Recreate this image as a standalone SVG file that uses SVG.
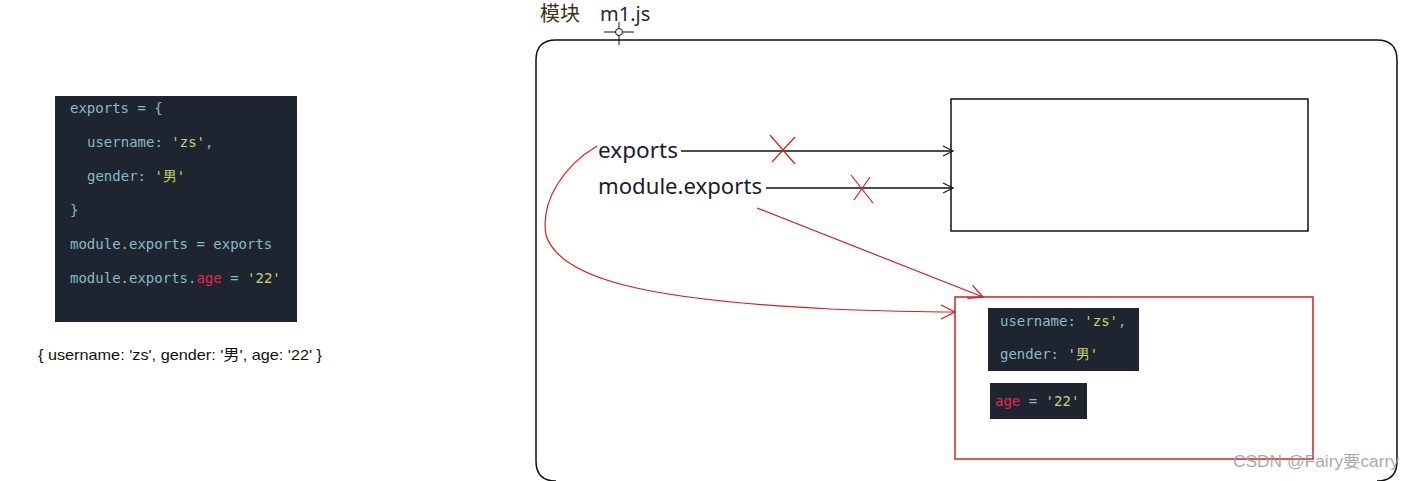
<svg xmlns="http://www.w3.org/2000/svg" width="1415" height="481" viewBox="0 0 1415 481">
<defs>
<style>
.code{font-family:"DejaVu Sans Mono","Liberation Mono",monospace;font-size:14px;fill:#86bcc6}
.str{fill:#c8d36a}
.red{fill:#e3294c}
.bg{fill:#1e2531}
.lbl{font-family:"Noto Sans","Liberation Sans","Noto Sans CJK SC",sans-serif;font-size:21px;fill:#1a1a30}
.ln{stroke:#111;stroke-width:1.5;fill:none}
.rl{stroke:#d42020;stroke-width:1.2;fill:none}
</style>
<marker id="ah" viewBox="0 0 12 12" refX="11" refY="6" markerWidth="12" markerHeight="12" markerUnits="userSpaceOnUse" orient="auto">
<path d="M1,1 L11,6 L1,11" fill="none" stroke="#222" stroke-width="1.3"/>
</marker>
<marker id="ahr" viewBox="0 0 16 16" refX="15" refY="8" markerWidth="16" markerHeight="16" markerUnits="userSpaceOnUse" orient="auto">
<path d="M1,1 L15,8 L1,15" fill="none" stroke="#c62020" stroke-width="1.3"/>
</marker>
</defs>
<rect width="1415" height="481" fill="#fff"/>

<g id="code-left">
<rect class="bg" x="55" y="96" width="242" height="226"/>
<text class="code" x="70" y="113">exports = {</text>
<text class="code" x="87" y="147">username: <tspan class="str">'zs'</tspan>,</text>
<text class="code" x="87" y="181">gender: <tspan class="str">'男'</tspan></text>
<text class="code" x="70" y="215">}</text>
<text class="code" x="70" y="249">module.exports = exports</text>
<text class="code" x="70" y="283">module.exports.<tspan class="red">age</tspan> = <tspan class="str">'22'</tspan></text>
</g>
<g id="caption">
<text x="38" y="360" font-family="'Liberation Sans','Noto Sans CJK SC',sans-serif" font-size="15" fill="#111" textLength="284" lengthAdjust="spacingAndGlyphs">{ username: 'zs', gender: '男', age: '22' }</text>
</g>

<g id="module">
<path d="M556,40 L1377,40 Q1397,40 1397,60 L1397,461 Q1397,481 1377,481" class="ln" stroke-width="2"/>
<path d="M556,40 Q536,40 536,60 L536,461 Q536,481 556,481" class="ln" stroke-width="2"/>
<text x="540" y="21" font-family="'Noto Sans CJK SC',sans-serif" font-size="20" fill="#3d2f12">模块</text>
<text x="600" y="21" font-family="'Noto Sans','Liberation Sans',sans-serif" font-size="20" fill="#1a2a40">m1.js</text>
<g stroke="#111" stroke-width="1" fill="none">
<line x1="604" y1="32" x2="634" y2="32"/>
<line x1="619" y1="22" x2="619" y2="45"/>
<circle cx="619" cy="32" r="3.5" fill="#fff"/>
</g>
</g>

<g id="labels">
<text class="lbl" x="598" y="158" textLength="80" lengthAdjust="spacingAndGlyphs">exports</text>
<text class="lbl" x="598" y="194" textLength="164" lengthAdjust="spacingAndGlyphs">module.exports</text>
</g>

<g id="old-object">
<rect x="951" y="99" width="357" height="132" fill="#fff" stroke="#111" stroke-width="1.5"/>
</g>

<g id="new-object">
<rect x="955" y="297" width="358" height="162" fill="#fff" stroke="#d42020" stroke-width="1.5"/>
<rect class="bg" x="988" y="308" width="151" height="63"/>
<text class="code" x="1000" y="326">username: <tspan class="str">'zs'</tspan>,</text>
<text class="code" x="1000" y="359">gender: <tspan class="str">'男'</tspan></text>
<rect class="bg" x="990" y="383" width="97" height="36"/>
<text class="code" x="995" y="406"><tspan class="red">age</tspan> = <tspan class="str">'22'</tspan></text>
</g>

<g id="connectors">
<line x1="681" y1="151" x2="953" y2="151" class="ln" marker-end="url(#ah)"/>
<line x1="766" y1="188" x2="953" y2="188" class="ln" marker-end="url(#ah)"/>
<path d="M770,135 L795,164 M795,137 L772,162" class="rl"/>
<path d="M851,175 L873,203 M870,177 L854,200" class="rl"/>
<line x1="757" y1="208" x2="983" y2="297" class="rl" marker-end="url(#ahr)"/>
<path d="M597,146 C565,165 540,200 546,235 C560,280 650,300 830,309 C880,311 920,312 955,312" class="rl" marker-end="url(#ahr)"/>
</g>

<text x="1233" y="467" font-family="'Liberation Sans','Noto Sans CJK SC',sans-serif" font-size="16" fill="#999" fill-opacity="0.85" textLength="166" lengthAdjust="spacingAndGlyphs">CSDN @Fairy要carry</text>
</svg>
